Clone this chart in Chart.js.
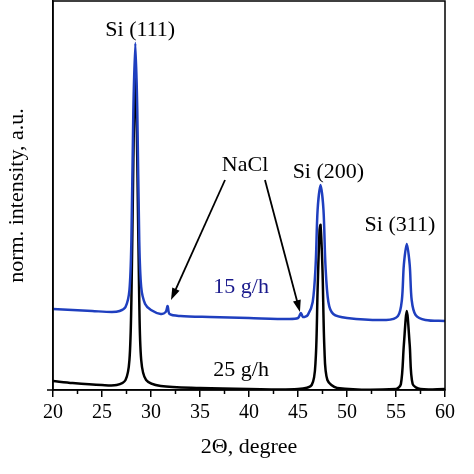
<!DOCTYPE html><html><head><script src="https://cdn.jsdelivr.net/npm/chart.js@4"></script>
<style>body{margin:0;background:#fff}#w{width:474px;height:474px}</style></head><body><div id="w"><canvas id="c"></canvas></div>
<script>
const blueX=[20,22,24,26,26.8,27.4,27.8,28.0,28.2,28.4,28.6,28.8,29.0,29.4,30,31,31.5,31.7,31.9,33,36,40,44,45,45.3,45.5,46,46.5,46.8,47.0,47.3,47.6,47.8,48.1,48.6,50,54,55.2,55.6,55.8,56.1,56.4,56.6,57,58,60];
const blueY=[81,80,79,78,79,83,100,150,280,347,280,150,103,86,80,76,78,84,76,74,73,72,71,72,77,73,75,88,125,180,205,180,125,88,76,72,70,74,90,125,146,125,90,75,70,69];
const blackX=[20,22,25,26.5,27.4,27.8,28.0,28.2,28.4,28.6,28.8,29.0,29.5,31,35,40,45,46.4,46.8,47.0,47.2,47.3,47.5,47.7,48,49,55,55.5,55.8,56.1,56.4,56.7,57.5,60];
const blackY=[9,7,5,5,10,30,90,230,320,230,90,30,10,4,2,1,1,5,30,100,160,165,120,40,10,2,1,6,45,79,45,6,1,1];
const xTicks=[20,25,30,35,40,45,50,55,60];
const labels=[["Si (111)",28.9,360,"#000"],["NaCl",39.6,225,"#000"],["Si (200)",48.1,218,"#000"],["Si (311)",55.4,165,"#000"],["15 g/h",39.2,103,"#1a1a8c"],["25 g/h",39.2,20,"#000"]];
const arrows=[[37.55,210,32.04,90],[41.63,210,45.2,78]];
const F='"Liberation Serif", serif';
const pts=(xs,ys)=>xs.map((x,i)=>({x,y:ys[i]}));
const deco={id:'deco',afterDatasetsDraw(ch){const c=ch.ctx,a=ch.chartArea,sx=ch.scales.x,sy=ch.scales.y;
c.save();c.strokeStyle='#000';c.lineWidth=1.5;c.strokeRect(a.left,a.top,a.right-a.left,a.bottom-a.top);
for(let v=22.5;v<60;v+=5){const p=sx.getPixelForValue(v);c.beginPath();c.moveTo(p,a.bottom);c.lineTo(p,a.bottom+4);c.stroke();}
c.beginPath();c.moveTo(a.left-6,a.bottom);c.lineTo(a.left,a.bottom);c.stroke();
c.font='22px '+F;c.textAlign='center';c.textBaseline='middle';
labels.forEach(l=>{c.fillStyle=l[3];c.fillText(l[0],sx.getPixelForValue(l[1]),sy.getPixelForValue(l[2]));});
c.lineWidth=1.8;c.fillStyle='#000';
arrows.forEach(r=>{const x1=sx.getPixelForValue(r[0]),y1=sy.getPixelForValue(r[1]),x2=sx.getPixelForValue(r[2]),y2=sy.getPixelForValue(r[3]);
const an=Math.atan2(y2-y1,x2-x1);c.beginPath();c.moveTo(x1,y1);c.lineTo(x2-8*Math.cos(an),y2-8*Math.sin(an));c.stroke();
c.beginPath();c.moveTo(x2,y2);c.lineTo(x2-12*Math.cos(an)+4*Math.sin(an),y2-12*Math.sin(an)-4*Math.cos(an));c.lineTo(x2-12*Math.cos(an)-4*Math.sin(an),y2-12*Math.sin(an)+4*Math.cos(an));c.closePath();c.fill();});
c.restore();}};
new Chart(document.getElementById('c'),{type:'line',data:{datasets:[
{data:pts(blueX,blueY),borderColor:'#1f3fbf',borderWidth:2.5,pointRadius:0,tension:0.3},
{data:pts(blackX,blackY),borderColor:'#000',borderWidth:2.5,pointRadius:0,tension:0.3}]},
options:{responsive:true,maintainAspectRatio:false,animation:false,layout:{padding:{top:1,right:29}},
plugins:{legend:{display:false},tooltip:{enabled:false}},
scales:{x:{type:'linear',min:20,max:60,afterBuildTicks(s){s.ticks=xTicks.map(v=>({value:v}));},
afterFit(s){s.height=84;},
ticks:{color:'#000',font:{family:F,size:20},maxRotation:0,padding:4},
grid:{drawOnChartArea:false,tickLength:7,color:'#000',lineWidth:1.5},border:{color:'#000',width:1.5},
title:{display:true,text:'2Θ, degree',color:'#000',font:{family:F,size:22},padding:{top:0,bottom:14}}},
y:{min:0,max:389,afterFit(s){s.width=53;},ticks:{display:false},grid:{display:false},border:{color:'#000',width:1.5},
title:{display:true,text:'norm. intensity, a.u.',color:'#000',font:{family:F,size:22},padding:{bottom:8}}}}},plugins:[deco]});
</script></body></html>
